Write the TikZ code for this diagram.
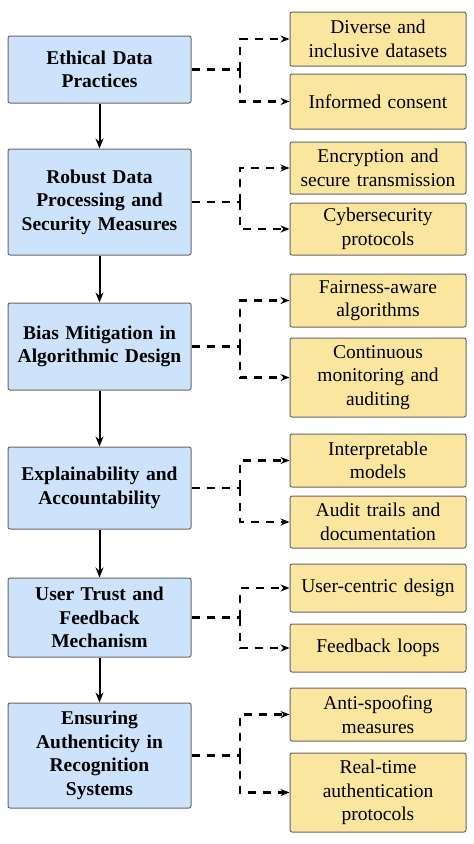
\documentclass[tikz,border=0pt]{standalone}
\usepackage{fontspec}
\setmainfont{Liberation Serif}
\usetikzlibrary{arrows.meta}
\definecolor{stageblue}{HTML}{CDE3FB}
\definecolor{itemyellow}{HTML}{FBE6A0}
\definecolor{edgegray}{HTML}{666666}
\begin{document}
\begin{tikzpicture}[
    x=1pt, y=-1pt,
    stage/.style={rectangle, rounded corners=2pt, draw=edgegray, line width=1pt, fill=stageblue,
      minimum width=183pt, text width=180pt, align=center, inner sep=0pt,
      font=\fontsize{19.5}{23.5}\selectfont\bfseries},
    item/.style={rectangle, rounded corners=2pt, draw=edgegray, line width=1pt, fill=itemyellow,
      minimum width=176pt, text width=174pt, align=center, inner sep=0pt,
      font=\fontsize{19.5}{23.5}\selectfont},
    flow/.style={-{Stealth[length=10pt,width=8pt]}, line width=2pt},
    branch/.style={line width=2.6pt, dash pattern=on 8pt off 7pt},
    tip/.style={branch, -{Stealth[length=9pt,width=7pt]}}
  ]
  \useasboundingbox (0,0) rectangle (474,844);

  % main stages
  \node[stage, minimum height=67pt]  (s1) at (99.5,69.5)  {Ethical Data\\Practices};
  \node[stage, minimum height=106pt] (s2) at (99.5,202)   {Robust Data\\Processing and\\Security Measures};
  \node[stage, minimum height=87pt]  (s3) at (99.5,346.5) {Bias Mitigation in\\Algorithmic Design};
  \node[stage, minimum height=82pt]  (s4) at (99.5,488)   {Explainability and\\Accountability};
  \node[stage, minimum height=79pt]  (s5) at (99.5,617.5) {User Trust and\\Feedback\\Mechanism};
  \node[stage, minimum height=105pt] (s6) at (99.5,755.5) {Ensuring\\Authenticity in\\Recognition\\Systems};

  % sub items
  \node[item, minimum height=54pt] (r1a) at (378,39)    {Diverse and\\inclusive datasets};
  \node[item, minimum height=55pt] (r1b) at (378,101.5) {Informed consent};
  \node[item, minimum height=52pt] (r2a) at (378,168)   {Encryption and\\secure transmission};
  \node[item, minimum height=52pt] (r2b) at (378,229)   {Cybersecurity\\protocols};
  \node[item, minimum height=53pt] (r3a) at (378,300.5) {Fairness-aware\\algorithms};
  \node[item, minimum height=79pt] (r3b) at (378,377.5) {Continuous\\monitoring and\\auditing};
  \node[item, minimum height=53pt] (r4a) at (378,460.5) {Interpretable\\models};
  \node[item, minimum height=52pt] (r4b) at (378,522)   {Audit trails and\\documentation};
  \node[item, minimum height=48pt] (r5a) at (378,588)   {User-centric design};
  \node[item, minimum height=48pt] (r5b) at (378,648)   {Feedback loops};
  \node[item, minimum height=53pt] (r6a) at (378,714.5) {Anti-spoofing\\measures};
  \node[item, minimum height=79pt] (r6b) at (378,792.5) {Real-time\\authentication\\protocols};

  % main flow
  \foreach \a/\b in {s1/s2, s2/s3, s3/s4, s4/s5, s5/s6}
    \draw[flow] (\a) -- (\b);

  % branches
  \foreach \i in {1,...,6} {
    \coordinate (j\i) at (240,0 |- s\i.east);
    \draw[branch] (s\i.east) -- (j\i);
    \draw[tip] (j\i) |- (r\i a.west);
    \draw[tip] (j\i) |- (r\i b.west);
  }
\end{tikzpicture}
\end{document}
